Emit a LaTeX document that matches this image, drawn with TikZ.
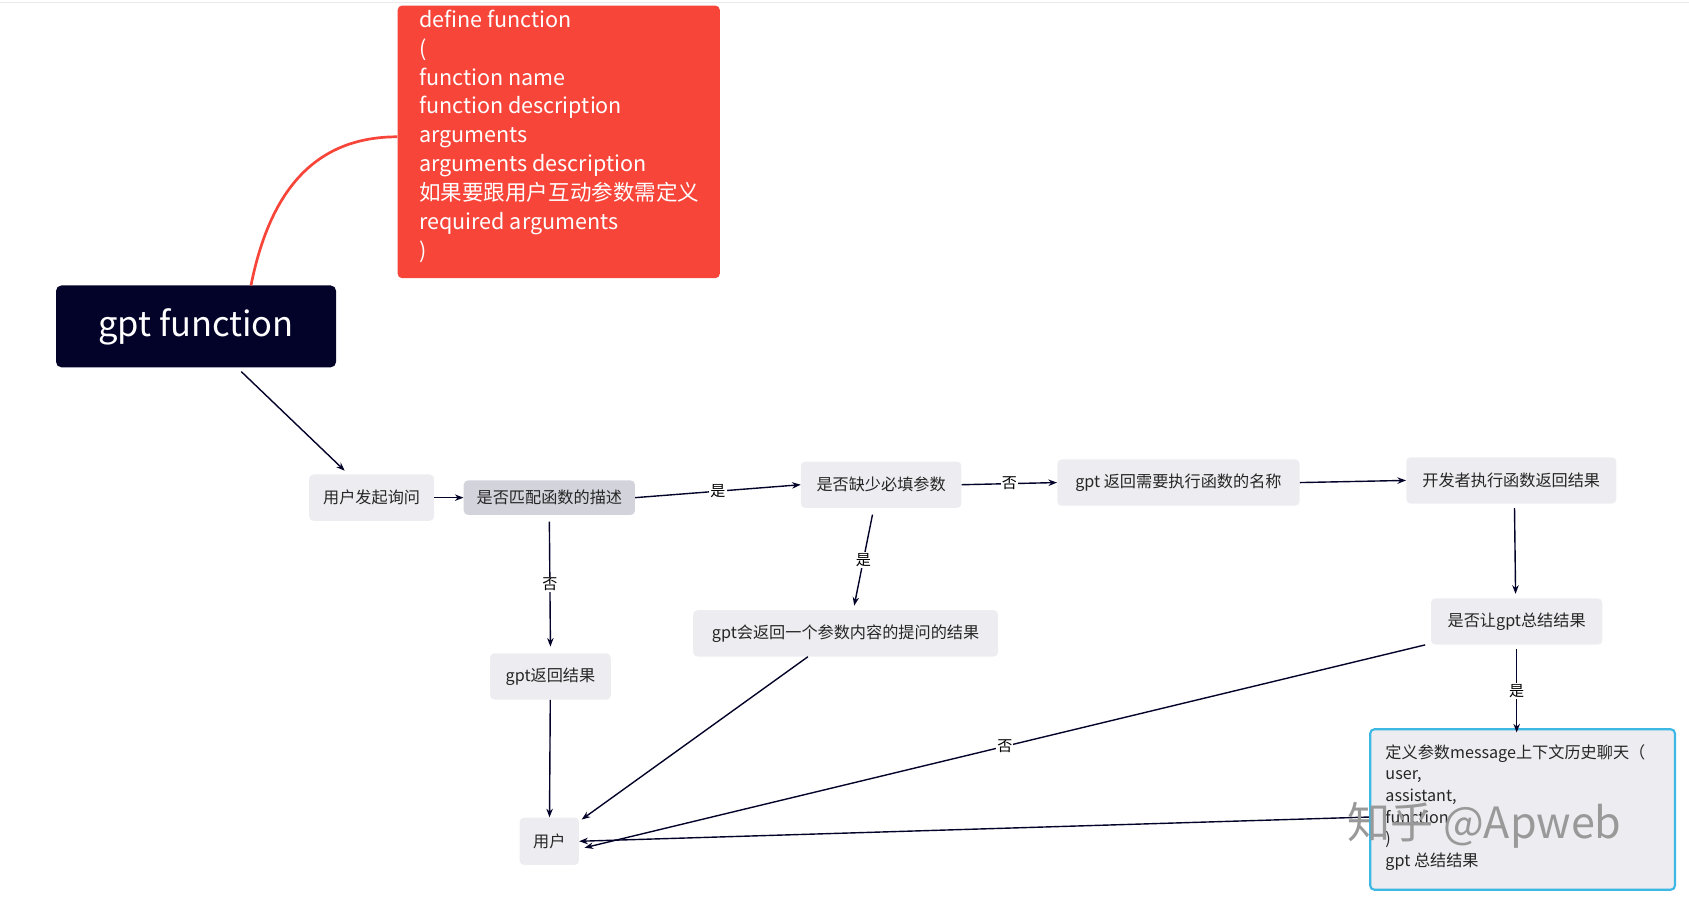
\documentclass[tikz,border=0pt]{standalone}
\usepackage{fontspec}
\setmainfont{Noto Sans CJK SC}
\usetikzlibrary{arrows.meta}
\definecolor{nav}{HTML}{03032A}
\definecolor{redb}{HTML}{F7453A}
\definecolor{boxg}{HTML}{EDECF0}
\definecolor{boxd}{HTML}{D3D3DB}
\definecolor{cyanb}{HTML}{3DB8E4}
\tikzset{
 bx/.style={fill=boxg,rounded corners=4pt,minimum height=43pt,inner xsep=12pt,font=\fontsize{15}{17}\selectfont,text=black!85},
 ar/.style={-{Stealth[length=8pt,width=6pt]},line width=1.3pt,draw=nav},
 lb/.style={fill=white,inner sep=1pt,font=\fontsize{14}{16}\selectfont}
}
\begin{document}
\begin{tikzpicture}[x=1pt,y=-1pt]
\useasboundingbox (0,0) rectangle (1568,836.5);
\draw[black!8,line width=1pt] (0,2) -- (1568,2);
% red note
\node[fill=redb,rounded corners=4pt,anchor=north west,minimum width=299pt,minimum height=253pt,inner sep=0pt] (red) at (369,5) {};
\node[anchor=north west,text=white,align=left,font=\fontsize{20}{26.8}\selectfont,inner sep=0pt] (redt) at (389,9)
 {define function\\(\\function name\\function description\\arguments\\arguments description\\如果要跟用户互动参数需定义\\required arguments\\)};
\node[fill=nav,rounded corners=5pt,minimum width=260pt,minimum height=76pt,text=white,font=\fontsize{32}{36}\selectfont] (title) at (182,303) {gpt function};
\coordinate (tt) at (233,265);
\coordinate (rl) at (369,127);
\draw[redb,line width=2.5pt] (tt) .. controls (250,180) and (290,127) .. (rl);
% nodes
\node[bx,minimum width=116pt] (u1) at (345,462) {用户发起询问};
\node[bx,fill=boxd,minimum width=152pt,minimum height=32pt] (m) at (510,462) {是否匹配函数的描述};
\node[bx,minimum width=149pt] (q) at (818,450) {是否缺少必填参数};
\node[bx,minimum width=225pt] (g) at (1094,448) {gpt 返回需要执行函数的名称};
\node[bx,minimum width=195pt] (dev) at (1403,446) {开发者执行函数返回结果};
\node[bx,minimum width=159pt] (sum) at (1408,577) {是否让gpt总结结果};
\node[bx,minimum width=112pt] (gr) at (511,628) {gpt返回结果};
\node[bx,minimum width=283pt] (pr) at (785,588) {gpt会返回一个参数内容的提问的结果};
\node[bx,minimum width=55pt,minimum height=44pt] (user) at (510,781) {用户};
\node[fill=boxg,draw=cyanb,line width=2pt,rounded corners=4pt,minimum width=283pt,minimum height=149pt,anchor=north west] (big) at (1271,676) {};
\node[anchor=north west,align=left,inner sep=0pt,font=\fontsize{15}{20}\selectfont,text=black!85] (bigt) at (1286,691)
 {定义参数message上下文历史聊天（\\user,\\assistant,\\function\\)\\gpt 总结结果};
% edges
\coordinate (ts) at (224,345);
\draw[ar] (ts) -- (320,437);
\draw[ar] (u1) -- (m);
\draw[ar] (m.east) -- node[lb]{是} (q.west);
\draw[ar] (q.east) -- node[lb]{否} (g.west);
\draw[ar] (g.east) -- (dev.west);
\draw[ar] ([xshift=3pt,yshift=-4pt]dev.south) -- ([xshift=-1pt,yshift=4pt]sum.north);
\draw[ar] ([yshift=-4pt]sum.south) -- node[lb]{是} ([yshift=-4pt]big.north-|sum);
\draw[ar] ([xshift=-8pt,yshift=-6pt]q.south) -- node[lb]{是} ([xshift=8pt,yshift=4pt]pr.north);
\draw[ar] ([yshift=-6pt]m.south) -- node[lb]{否} ([yshift=6pt]gr.north);
\draw[ar] (gr) -- (user);
\draw[ar] ([xshift=-35pt]pr.south) -- ([xshift=30pt,yshift=-2pt]user.north);
\draw[ar] ([xshift=-85pt]sum.south) -- node[lb,pos=0.5]{否} ([xshift=5pt,yshift=-6pt]user.east);
\draw[ar] ([yshift=-7pt]big.west) -- ([yshift=0pt]user.east);
% watermark
\node[text=black!40,font=\fontsize{40}{44}\selectfont] (wm) at (1378,766) {知乎 @Apweb};
\end{tikzpicture}
\end{document}
